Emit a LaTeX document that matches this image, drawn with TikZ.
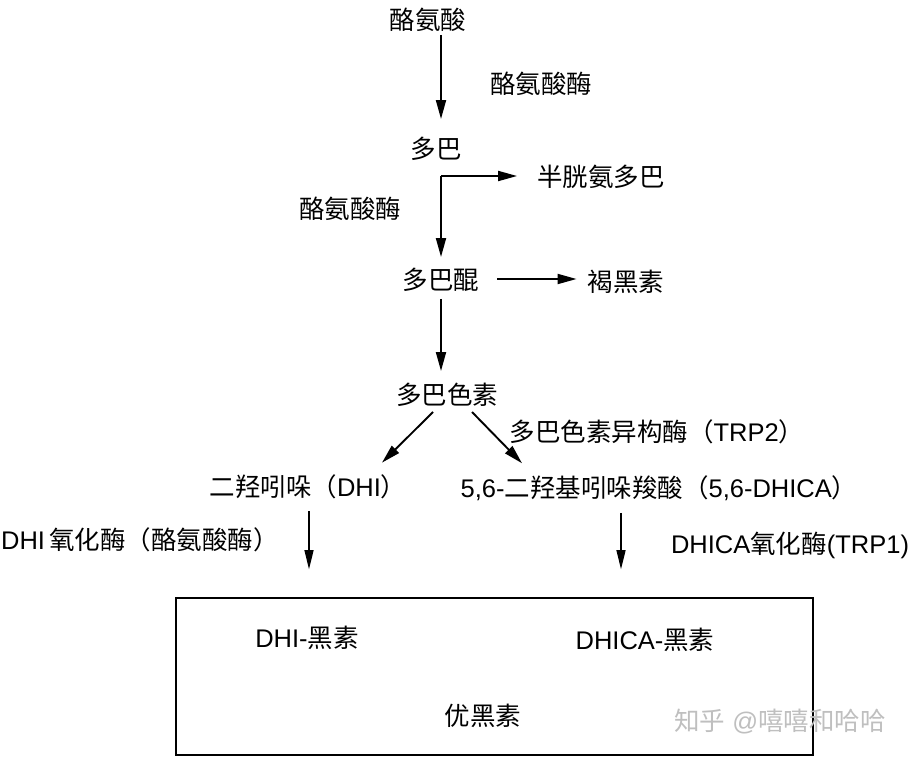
\documentclass[tikz,border=0pt]{standalone}
\usepackage{fontspec}
\setmainfont{Liberation Sans}
\newfontfamily\cjk{Noto Sans CJK SC}
\usetikzlibrary{arrows.meta,calc}
\begin{document}
\begin{tikzpicture}[x=1pt,y=-1pt,
  lbl/.style={inner sep=0pt,font=\fontsize{25.5}{28}\selectfont},
  arr/.style={line width=1.9pt,-{Triangle[length=19pt,width=10pt]}},
  arrthin/.style={line width=1.3pt,-{Triangle[length=19pt,width=9pt]}},
  boxst/.style={draw,line width=1.6pt,inner sep=0pt}]
\useasboundingbox (0,0) rectangle (915,763);
\fill[white] (0,0) rectangle (915,763);
% nodes
\node[lbl] (tyr) at (428,20) {\cjk 酪氨酸};
\node[lbl] (enz1) at (541,84) {\cjk 酪氨酸酶};
\node[lbl] (dopa) at (436,149) {\cjk 多巴};
\node[lbl] (cdopa) at (601,177) {\cjk 半胱氨多巴};
\node[lbl] (enz2) at (350,209) {\cjk 酪氨酸酶};
\node[lbl] (dq) at (441,280) {\cjk 多巴醌};
\node[lbl] (pheo) at (626,282) {\cjk 褐黑素};
\node[lbl] (dc) at (447,395) {\cjk 多巴色素};
\node[lbl] (trp2) at (657,432) {{\cjk 多巴色素异构酶（}TRP2{\cjk ）}};
\node[lbl] (dhi) at (308,487) {{\cjk 二羟吲哚（}DHI{\cjk ）}};
\node[lbl] (dhica) at (659,488) {5,6-{\cjk 二羟基吲哚羧酸（}5,6-DHICA{\cjk ）}};
\node[lbl] (dhio) at (140,540) {DHI\,{\cjk 氧化酶（酪氨酸酶）}};
\node[lbl] (dhicao) at (790,545) {DHICA{\cjk 氧化酶}(TRP1)};
\node[boxst,minimum width=637pt,minimum height=157pt] (box) at (494.5,676.5) {};
\node[lbl] (dhim) at (307,638) {DHI-{\cjk 黑素}};
\node[lbl] (dhicam) at (645,640) {DHICA-{\cjk 黑素}};
\node[lbl] (eu) at (483,716) {\cjk 优黑素};
\node[lbl,text=black!25] (wm) at (780,722) {{\cjk 知乎} @{\cjk 嘻嘻和哈哈}};
% axis coordinates
\coordinate (ax) at (441,0);
\coordinate (j) at (441,176);
\coordinate (ax1) at (309,0);
\coordinate (ax2) at (621,0);
% connectors
\draw[arr] ($(tyr.south -| ax)+(0,3)$) -- ($(dopa.north -| ax)+(0,-18)$);
\draw[arr] (j) -- ($(dq.north -| ax)+(0,-11)$);
\draw[arr] (j) -- ($(cdopa.west |- j)+(-20,0)$);
\draw[arr] ($(dq.east)+(18,-1)$) -- ($(pheo.west)+(-11,-3)$);
\draw[arr] ($(dq.south -| ax)+(0,7)$) -- ($(dc.north -| ax)+(0,-12)$);
\draw[arr] ($(dc.south)+(-14,5)$) -- ($(dhi.north)+(74,-12)$);
\draw[arr] ($(dc.south)+(25,5)$) -- ($(dhica.north)+(-137,-12)$);
\draw[arrthin] ($(dhi.south -| ax1)+(0,12)$) -- ($(box.north -| ax1)+(0,-28)$);
\draw[arrthin] ($(dhica.south -| ax2)+(0,12)$) -- ($(box.north -| ax2)+(0,-28)$);
\end{tikzpicture}
\end{document}
